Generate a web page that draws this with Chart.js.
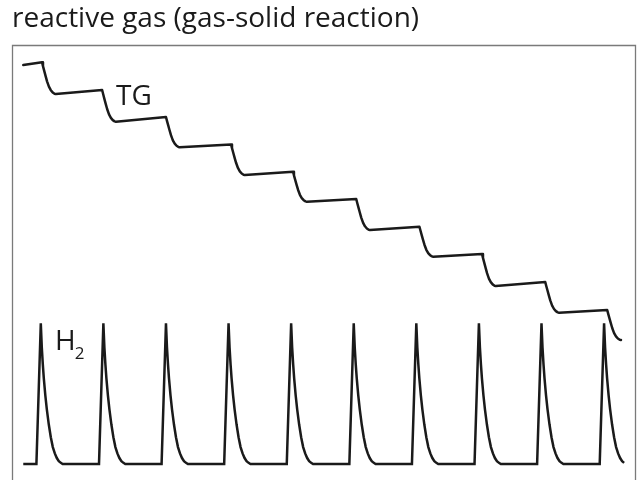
<!DOCTYPE html>
<html>
<head>
<meta charset="utf-8">
<script src="https://cdn.jsdelivr.net/npm/chart.js@4.4.1/dist/chart.umd.min.js"></script>
<style>
html,body{margin:0;padding:0;background:#ffffff;}
#wrap{width:640px;height:480px;}
</style>
</head>
<body>
<div id="wrap"><canvas id="c" width="640" height="480"></canvas></div>
<script>
// ---- data (time in min, TG in mass %, H2 in relative signal) ----
const titleText = 'reactive gas (gas-solid reaction)';

// H2 pulses: peak times and the shape of one pulse (offset from peak, relative signal)
const pulseTimes = [5, 15, 25, 35, 45, 55, 65, 75, 85, 95];
const pulseShapeOffsets = [-0.7, 0, 0.16, 0.32, 0.48, 0.72, 0.96, 1.28, 1.6, 1.92, 2.24, 2.56, 2.88, 3.2, 3.5];
const pulseShapeValues  = [0, 1, 0.83, 0.71, 0.61, 0.49, 0.39, 0.28, 0.19, 0.12, 0.075, 0.042, 0.02, 0.008, 0];
const h2StartTime = 2.2;
const h2EndTime = 98.2;

// TG: steps
const tgStartTime = 2.2;
const tgDropTimes = [5.2, 14.8, 25.0, 35.4, 45.3, 55.4, 65.5, 75.5, 85.6, 95.5];
const tgLevelStartMass = [99.73, 96.83, 94.06, 91.5, 88.73, 86.06, 83.23, 80.56, 77.63, 74.96, 72.23];
const tgLevelEndMass   = [100, 97.23, 94.53, 91.78, 89.06, 86.33, 83.56, 80.83, 78.03, 75.23];
// shape of one mass drop (offset from drop start, fraction of the step)
const dropOffsets   = [0, 0.15, 0.35, 0.55, 0.8, 1.1, 1.4, 1.7, 2.0, 2.2];
const dropFractions = [0, 0.12, 0.27, 0.42, 0.6, 0.77, 0.88, 0.95, 0.99, 1];

// series labels anchored in data coordinates
const seriesLabels = [
  {text: 'TG', sub: '', x: 17.03, y: 95.73, axis: 'yTG'},
  {text: 'H', sub: '2', x: 7.28, y: 0.81, axis: 'yH2'}
];

// ---- build series ----
const h2Data = [{x: h2StartTime, y: 0}];
pulseTimes.forEach(t => {
  pulseShapeOffsets.forEach((o, i) => {
    const x = t + o;
    if (x <= h2EndTime) h2Data.push({x: x, y: pulseShapeValues[i]});
  });
});

const tgData = [{x: tgStartTime, y: tgLevelStartMass[0]}];
tgDropTimes.forEach((t, k) => {
  const top = tgLevelEndMass[k];
  const step = top - tgLevelStartMass[k + 1];
  dropOffsets.forEach((o, i) => {
    tgData.push({x: t + o, y: top - step * dropFractions[i]});
  });
});

// ---- plugins ----
const framePlugin = {
  id: 'frame',
  beforeDatasetsDraw(chart) {
    const a = chart.chartArea, ctx = chart.ctx;
    ctx.save();
    ctx.strokeStyle = '#7a7a7a';
    ctx.lineWidth = 1.3;
    ctx.beginPath();
    ctx.moveTo(a.left + 0.5, a.bottom + 10);
    ctx.lineTo(a.left + 0.5, a.top + 0.5);
    ctx.lineTo(a.right - 0.5, a.top + 0.5);
    ctx.lineTo(a.right - 0.5, a.bottom + 10);
    ctx.stroke();
    ctx.restore();
  }
};

const labelPlugin = {
  id: 'seriesLabels',
  afterDatasetsDraw(chart) {
    const ctx = chart.ctx;
    ctx.save();
    ctx.fillStyle = '#1a1a1a';
    ctx.textBaseline = 'alphabetic';
    ctx.textAlign = 'left';
    seriesLabels.forEach(l => {
      const px = chart.scales.x.getPixelForValue(l.x);
      const py = chart.scales[l.axis].getPixelForValue(l.y);
      ctx.font = '28px "Open Sans"';
      ctx.fillText(l.text, px, py);
      if (l.sub) {
        const w = ctx.measureText(l.text).width;
        ctx.font = '17px "Open Sans"';
        ctx.fillText(l.sub, px + w - 1, py + 9);
      }
    });
    ctx.restore();
  }
};

new Chart(document.getElementById('c'), {
  type: 'scatter',
  data: {
    datasets: [
      {label: 'TG', data: tgData, yAxisID: 'yTG', showLine: true, borderColor: '#1a1a1a',
       borderWidth: 2.5, pointRadius: 0, tension: 0, borderJoinStyle: 'round', borderCapStyle: 'round'},
      {label: 'H2', data: h2Data, yAxisID: 'yH2', showLine: true, borderColor: '#1a1a1a',
       borderWidth: 2.5, pointRadius: 0, tension: 0, borderJoinStyle: 'miter', borderCapStyle: 'butt'}
    ]
  },
  options: {
    responsive: false,
    animation: false,
    devicePixelRatio: 1,
    layout: {padding: {left: 12, right: 4, top: 0, bottom: 0}},
    plugins: {
      legend: {display: false},
      tooltip: {enabled: false},
      title: {
        display: true, text: titleText, align: 'start', color: '#1a1a1a',
        font: {family: '"Open Sans"', size: 28, weight: 'normal', lineHeight: 1.2},
        padding: {top: 2, bottom: 9.4}
      }
    },
    scales: {
      x: {type: 'linear', min: 0.4, max: 100.1, display: false},
      yTG: {type: 'linear', position: 'left', min: 58.23, max: 101.73, display: false},
      yH2: {type: 'linear', position: 'right', min: -0.114, max: 2.978, display: false}
    }
  },
  plugins: [framePlugin, labelPlugin]
});
</script>
</body>
</html>
